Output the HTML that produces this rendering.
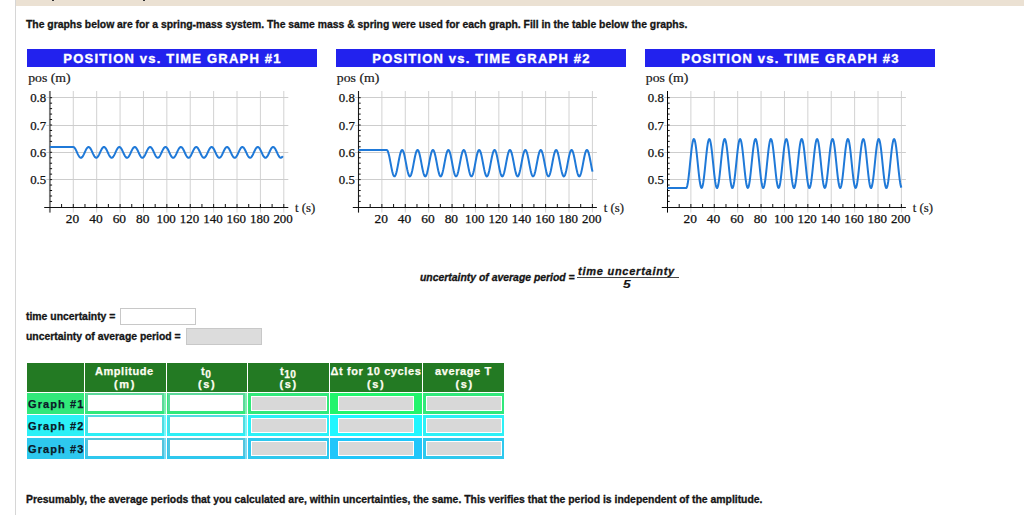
<!DOCTYPE html>
<html><head><meta charset="utf-8">
<style>
*{margin:0;padding:0;box-sizing:border-box}
html,body{width:1024px;height:515px;overflow:hidden;background:#fff;background-clip:padding-box}
body{position:relative;font-family:"Liberation Sans",sans-serif;color:#151515}
.abs{position:absolute;white-space:nowrap}
.topbar{position:absolute;left:16px;top:0;width:1008px;height:6px;background:#ebe1d3}
.lborder{position:absolute;left:15px;top:0;width:1px;height:515px;background:#d6d6d6}
.t10{font-weight:bold;font-size:10.42px;line-height:12px;-webkit-text-stroke:.3px #151515}
.bar{position:absolute;top:49px;height:18px;width:290px;background:#2222ee;color:#fff;font-weight:bold;font-size:13px;letter-spacing:1.2px;line-height:20px;text-align:center;-webkit-text-stroke:.35px #fff;text-indent:1px}
.g{position:absolute;left:0;top:0}
.inp{position:absolute;border:1px solid #c8c8c8;background:#fff;background-clip:padding-box}
.inp.gr{background:#dcdcdc}
table{position:absolute;left:26px;top:362px;border-collapse:separate;border-spacing:1px;font-weight:bold;font-size:11px;letter-spacing:0.7px}
td,th{padding:0;position:relative}
th{background:#237a23;color:#fbfbe6;height:29px;line-height:12px;text-align:center;vertical-align:middle;font-weight:bold;-webkit-text-stroke:.25px #fbfbe6;padding-top:1px}
td{height:21px}
tr.r1 td{background:#2fe87a}
tr.r2 td{background:#22eefa}
tr.r3 td{background:#2bcbf0}
.rl{color:#0b1a28;font-weight:bold;font-size:11px;line-height:13px;letter-spacing:1.1px;-webkit-text-stroke:.25px #0b1a28}
.th{color:#fdfdf0;font-weight:bold;font-size:11px;line-height:13px;-webkit-text-stroke:.25px #fdfdf0}
.sb{font-size:10.2px;position:relative;top:2.5px;letter-spacing:0.4px;margin-left:0.5px}
.ti{position:absolute;left:1px;top:0px;width:79px;height:19px;border:2px solid rgba(255,255,255,.45);background:#fff;background-clip:padding-box}
.tg{position:absolute;left:3px;top:3px;width:76px;height:15px;border:1px solid #fff;background:#d8d8d8}
sub{font-size:9px;vertical-align:-2px;letter-spacing:0}
</style></head><body>
<div class="topbar"></div>
<div class="lborder"></div>
<div class="abs" style="left:52px;top:0;width:2px;height:1px;background:#333"></div>
<div class="abs" style="left:143px;top:0;width:2px;height:1px;background:#333"></div>
<div class="abs t10" style="left:26px;top:19px;font-size:10.39px">The graphs below are for a spring-mass system. The same mass &amp; spring were used for each graph. Fill in the table below the graphs.</div>
<div class="bar" style="left:27px">POSITION vs. TIME GRAPH #1</div>
<div class="bar" style="left:336px">POSITION vs. TIME GRAPH #2</div>
<div class="bar" style="left:645px">POSITION vs. TIME GRAPH #3</div>
<svg class="g" width="1024" height="240" viewBox="0 0 1024 240">
<style>.gl{font:12.3px "Liberation Serif",serif;fill:#111;stroke:#111;stroke-width:.25px} .gl2{font:12px "Liberation Serif",serif;fill:#1a1a1a;stroke:#1a1a1a;stroke-width:.2px}</style>
<line x1="73.29" y1="91" x2="73.29" y2="212.5" stroke="#d2d2d2" stroke-width="1"/>
<line x1="96.68" y1="91" x2="96.68" y2="212.5" stroke="#d2d2d2" stroke-width="1"/>
<line x1="120.07" y1="91" x2="120.07" y2="212.5" stroke="#d2d2d2" stroke-width="1"/>
<line x1="143.46" y1="91" x2="143.46" y2="212.5" stroke="#d2d2d2" stroke-width="1"/>
<line x1="166.85" y1="91" x2="166.85" y2="212.5" stroke="#d2d2d2" stroke-width="1"/>
<line x1="190.24" y1="91" x2="190.24" y2="212.5" stroke="#d2d2d2" stroke-width="1"/>
<line x1="213.63" y1="91" x2="213.63" y2="212.5" stroke="#d2d2d2" stroke-width="1"/>
<line x1="237.02" y1="91" x2="237.02" y2="212.5" stroke="#d2d2d2" stroke-width="1"/>
<line x1="260.41" y1="91" x2="260.41" y2="212.5" stroke="#d2d2d2" stroke-width="1"/>
<line x1="283.80" y1="91" x2="283.80" y2="212.5" stroke="#d2d2d2" stroke-width="1"/>
<line x1="46.40" y1="97.5" x2="288.30" y2="97.5" stroke="#cdcdcd" stroke-width="1"/>
<line x1="46.40" y1="125.5" x2="288.30" y2="125.5" stroke="#cdcdcd" stroke-width="1"/>
<line x1="46.40" y1="152.5" x2="288.30" y2="152.5" stroke="#cdcdcd" stroke-width="1"/>
<line x1="46.40" y1="179.5" x2="288.30" y2="179.5" stroke="#cdcdcd" stroke-width="1"/>
<rect x="48.95" y="91" width="1.9" height="121.6" fill="#7c7c7c"/>
<line x1="44.20" y1="207.5" x2="288.30" y2="207.5" stroke="#111" stroke-width="1.1"/>
<line x1="61.59" y1="204" x2="61.59" y2="207.5" stroke="#111" stroke-width="1"/>
<line x1="73.29" y1="204" x2="73.29" y2="207.5" stroke="#111" stroke-width="1"/>
<line x1="84.98" y1="204" x2="84.98" y2="207.5" stroke="#111" stroke-width="1"/>
<line x1="96.68" y1="204" x2="96.68" y2="207.5" stroke="#111" stroke-width="1"/>
<line x1="108.38" y1="204" x2="108.38" y2="207.5" stroke="#111" stroke-width="1"/>
<line x1="120.07" y1="204" x2="120.07" y2="207.5" stroke="#111" stroke-width="1"/>
<line x1="131.76" y1="204" x2="131.76" y2="207.5" stroke="#111" stroke-width="1"/>
<line x1="143.46" y1="204" x2="143.46" y2="207.5" stroke="#111" stroke-width="1"/>
<line x1="155.16" y1="204" x2="155.16" y2="207.5" stroke="#111" stroke-width="1"/>
<line x1="166.85" y1="204" x2="166.85" y2="207.5" stroke="#111" stroke-width="1"/>
<line x1="178.55" y1="204" x2="178.55" y2="207.5" stroke="#111" stroke-width="1"/>
<line x1="190.24" y1="204" x2="190.24" y2="207.5" stroke="#111" stroke-width="1"/>
<line x1="201.94" y1="204" x2="201.94" y2="207.5" stroke="#111" stroke-width="1"/>
<line x1="213.63" y1="204" x2="213.63" y2="207.5" stroke="#111" stroke-width="1"/>
<line x1="225.33" y1="204" x2="225.33" y2="207.5" stroke="#111" stroke-width="1"/>
<line x1="237.02" y1="204" x2="237.02" y2="207.5" stroke="#111" stroke-width="1"/>
<line x1="248.72" y1="204" x2="248.72" y2="207.5" stroke="#111" stroke-width="1"/>
<line x1="260.41" y1="204" x2="260.41" y2="207.5" stroke="#111" stroke-width="1"/>
<line x1="272.10" y1="204" x2="272.10" y2="207.5" stroke="#111" stroke-width="1"/>
<line x1="283.80" y1="204" x2="283.80" y2="207.5" stroke="#111" stroke-width="1"/>
<line x1="49.90" y1="97.70" x2="52.10" y2="97.70" stroke="#111" stroke-width="1"/>
<line x1="49.90" y1="103.16" x2="52.10" y2="103.16" stroke="#111" stroke-width="1"/>
<line x1="49.90" y1="108.62" x2="52.10" y2="108.62" stroke="#111" stroke-width="1"/>
<line x1="49.90" y1="114.08" x2="52.10" y2="114.08" stroke="#111" stroke-width="1"/>
<line x1="49.90" y1="119.54" x2="52.10" y2="119.54" stroke="#111" stroke-width="1"/>
<line x1="49.90" y1="125.00" x2="52.10" y2="125.00" stroke="#111" stroke-width="1"/>
<line x1="49.90" y1="130.46" x2="52.10" y2="130.46" stroke="#111" stroke-width="1"/>
<line x1="49.90" y1="135.92" x2="52.10" y2="135.92" stroke="#111" stroke-width="1"/>
<line x1="49.90" y1="141.38" x2="52.10" y2="141.38" stroke="#111" stroke-width="1"/>
<line x1="49.90" y1="146.84" x2="52.10" y2="146.84" stroke="#111" stroke-width="1"/>
<line x1="49.90" y1="152.30" x2="52.10" y2="152.30" stroke="#111" stroke-width="1"/>
<line x1="49.90" y1="157.76" x2="52.10" y2="157.76" stroke="#111" stroke-width="1"/>
<line x1="49.90" y1="163.22" x2="52.10" y2="163.22" stroke="#111" stroke-width="1"/>
<line x1="49.90" y1="168.68" x2="52.10" y2="168.68" stroke="#111" stroke-width="1"/>
<line x1="49.90" y1="174.14" x2="52.10" y2="174.14" stroke="#111" stroke-width="1"/>
<line x1="49.90" y1="179.60" x2="52.10" y2="179.60" stroke="#111" stroke-width="1"/>
<line x1="49.90" y1="185.06" x2="52.10" y2="185.06" stroke="#111" stroke-width="1"/>
<line x1="49.90" y1="190.52" x2="52.10" y2="190.52" stroke="#111" stroke-width="1"/>
<line x1="49.90" y1="195.98" x2="52.10" y2="195.98" stroke="#111" stroke-width="1"/>
<line x1="49.90" y1="201.44" x2="52.10" y2="201.44" stroke="#111" stroke-width="1"/>
<text x="46.20" y="102.10" text-anchor="end" class="gl" textLength="16" lengthAdjust="spacingAndGlyphs">0.8</text>
<text x="46.20" y="130.10" text-anchor="end" class="gl" textLength="16" lengthAdjust="spacingAndGlyphs">0.7</text>
<text x="46.20" y="157.10" text-anchor="end" class="gl" textLength="16" lengthAdjust="spacingAndGlyphs">0.6</text>
<text x="46.20" y="184.10" text-anchor="end" class="gl" textLength="16" lengthAdjust="spacingAndGlyphs">0.5</text>
<text x="72.59" y="223.1" text-anchor="middle" class="gl" textLength="13.4" lengthAdjust="spacingAndGlyphs">20</text>
<text x="95.98" y="223.1" text-anchor="middle" class="gl" textLength="13.4" lengthAdjust="spacingAndGlyphs">40</text>
<text x="119.37" y="223.1" text-anchor="middle" class="gl" textLength="13.4" lengthAdjust="spacingAndGlyphs">60</text>
<text x="142.76" y="223.1" text-anchor="middle" class="gl" textLength="13.4" lengthAdjust="spacingAndGlyphs">80</text>
<text x="166.15" y="223.1" text-anchor="middle" class="gl" textLength="19.4" lengthAdjust="spacingAndGlyphs">100</text>
<text x="189.54" y="223.1" text-anchor="middle" class="gl" textLength="19.4" lengthAdjust="spacingAndGlyphs">120</text>
<text x="212.93" y="223.1" text-anchor="middle" class="gl" textLength="19.4" lengthAdjust="spacingAndGlyphs">140</text>
<text x="236.32" y="223.1" text-anchor="middle" class="gl" textLength="19.4" lengthAdjust="spacingAndGlyphs">160</text>
<text x="259.71" y="223.1" text-anchor="middle" class="gl" textLength="19.4" lengthAdjust="spacingAndGlyphs">180</text>
<text x="283.10" y="223.1" text-anchor="middle" class="gl" textLength="19.4" lengthAdjust="spacingAndGlyphs">200</text>
<text x="295.10" y="211.9" class="gl2" textLength="20.2" lengthAdjust="spacingAndGlyphs">t (s)</text>
<text x="28.20" y="81.6" class="gl2" textLength="42.5" lengthAdjust="spacingAndGlyphs">pos (m)</text>
<path d="M49.90,147.00 L73.20,147.00 L73.70,147.11 L74.20,147.44 L74.70,147.98 L75.20,148.70 L75.70,149.58 L76.20,150.57 L76.70,151.64 L77.20,152.74 L77.70,153.83 L78.20,154.85 L78.70,155.78 L79.20,156.56 L79.70,157.17 L80.20,157.59 L80.70,157.78 L81.20,157.76 L81.70,157.51 L82.20,157.04 L82.70,156.39 L83.20,155.57 L83.70,154.62 L84.20,153.57 L84.70,152.48 L85.20,151.38 L85.70,150.33 L86.20,149.36 L86.70,148.52 L87.20,147.84 L87.70,147.35 L88.20,147.06 L88.70,147.01 L89.20,147.17 L89.70,147.56 L90.20,148.14 L90.70,148.90 L91.20,149.81 L91.70,150.82 L92.20,151.90 L92.70,153.01 L93.20,154.08 L93.70,155.09 L94.20,155.98 L94.70,156.73 L95.20,157.29 L95.70,157.65 L96.20,157.80 L96.70,157.72 L97.20,157.41 L97.70,156.90 L98.20,156.21 L98.70,155.35 L99.20,154.37 L99.70,153.31 L100.20,152.21 L100.70,151.12 L101.20,150.08 L101.70,149.14 L102.20,148.34 L102.70,147.70 L103.20,147.26 L103.70,147.03 L104.20,147.03 L104.70,147.24 L105.20,147.68 L105.70,148.31 L106.20,149.11 L106.70,150.04 L107.20,151.08 L107.70,152.17 L108.20,153.27 L108.70,154.33 L109.20,155.31 L109.70,156.18 L110.20,156.88 L110.70,157.40 L111.20,157.71 L111.70,157.80 L112.20,157.66 L112.70,157.31 L113.20,156.75 L113.70,156.01 L114.20,155.13 L114.70,154.12 L115.20,153.05 L115.70,151.95 L116.20,150.87 L116.70,149.85 L117.20,148.94 L117.70,148.17 L118.20,147.58 L118.70,147.18 L119.20,147.01 L119.70,147.06 L120.20,147.33 L120.70,147.81 L121.20,148.49 L121.70,149.32 L122.20,150.29 L122.70,151.34 L123.20,152.43 L123.70,153.53 L124.20,154.58 L124.70,155.53 L125.20,156.36 L125.70,157.02 L126.20,157.49 L126.70,157.75 L127.20,157.79 L127.70,157.60 L128.20,157.19 L128.70,156.59 L129.20,155.81 L129.70,154.89 L130.20,153.87 L130.70,152.79 L131.20,151.69 L131.70,150.61 L132.20,149.62 L132.70,148.74 L133.20,148.01 L133.70,147.46 L134.20,147.12 L134.70,147.00 L135.20,147.10 L135.70,147.43 L136.20,147.96 L136.70,148.67 L137.20,149.54 L137.70,150.53 L138.20,151.60 L138.70,152.70 L139.20,153.79 L139.70,154.82 L140.20,155.74 L140.70,156.54 L141.20,157.15 L141.70,157.57 L142.20,157.78 L142.70,157.76 L143.20,157.52 L143.70,157.07 L144.20,156.42 L144.70,155.60 L145.20,154.66 L145.70,153.61 L146.20,152.52 L146.70,151.42 L147.20,150.37 L147.70,149.39 L148.20,148.55 L148.70,147.86 L149.20,147.36 L149.70,147.07 L150.20,147.00 L150.70,147.16 L151.20,147.54 L151.70,148.11 L152.20,148.87 L152.70,149.77 L153.20,150.78 L153.70,151.86 L154.20,152.96 L154.70,154.04 L155.20,155.05 L155.70,155.95 L156.20,156.70 L156.70,157.27 L157.20,157.64 L157.70,157.80 L158.20,157.72 L158.70,157.43 L159.20,156.93 L159.70,156.24 L160.20,155.39 L160.70,154.41 L161.20,153.35 L161.70,152.26 L162.20,151.16 L162.70,150.12 L163.20,149.18 L163.70,148.37 L164.20,147.72 L164.70,147.27 L165.20,147.04 L165.70,147.02 L166.20,147.23 L166.70,147.66 L167.20,148.28 L167.70,149.07 L168.20,150.00 L168.70,151.04 L169.20,152.12 L169.70,153.22 L170.20,154.29 L170.70,155.28 L171.20,156.14 L171.70,156.86 L172.20,157.38 L172.70,157.70 L173.20,157.80 L173.70,157.67 L174.20,157.33 L174.70,156.78 L175.20,156.05 L175.70,155.16 L176.20,154.16 L176.70,153.09 L177.20,151.99 L177.70,150.91 L178.20,149.89 L178.70,148.97 L179.20,148.19 L179.70,147.60 L180.20,147.20 L180.70,147.01 L181.20,147.05 L181.70,147.31 L182.20,147.79 L182.70,148.46 L183.20,149.29 L183.70,150.24 L184.20,151.29 L184.70,152.39 L185.20,153.48 L185.70,154.54 L186.20,155.50 L186.70,156.33 L187.20,157.00 L187.70,157.48 L188.20,157.74 L188.70,157.79 L189.20,157.61 L189.70,157.21 L190.20,156.62 L190.70,155.85 L191.20,154.93 L191.70,153.91 L192.20,152.83 L192.70,151.73 L193.20,150.66 L193.70,149.66 L194.20,148.77 L194.70,148.03 L195.20,147.48 L195.70,147.13 L196.20,147.00 L196.70,147.10 L197.20,147.41 L197.70,147.93 L198.20,148.64 L198.70,149.51 L199.20,150.49 L199.70,151.55 L200.20,152.65 L200.70,153.74 L201.20,154.78 L201.70,155.71 L202.20,156.51 L202.70,157.13 L203.20,157.56 L203.70,157.78 L204.20,157.77 L204.70,157.54 L205.20,157.09 L205.70,156.45 L206.20,155.64 L206.70,154.70 L207.20,153.66 L207.70,152.57 L208.20,151.47 L208.70,150.41 L209.20,149.43 L209.70,148.58 L210.20,147.88 L210.70,147.38 L211.20,147.08 L211.70,147.00 L212.20,147.15 L212.70,147.52 L213.20,148.09 L213.70,148.84 L214.20,149.73 L214.70,150.74 L215.20,151.82 L215.70,152.92 L216.20,154.00 L216.70,155.01 L217.20,155.91 L217.70,156.67 L218.20,157.25 L218.70,157.63 L219.20,157.79 L219.70,157.73 L220.20,157.45 L220.70,156.95 L221.20,156.27 L221.70,155.42 L222.20,154.45 L222.70,153.40 L223.20,152.30 L223.70,151.21 L224.20,150.16 L224.70,149.21 L225.20,148.40 L225.70,147.74 L226.20,147.29 L226.70,147.04 L227.20,147.02 L227.70,147.22 L228.20,147.64 L228.70,148.25 L229.20,149.04 L229.70,149.97 L230.20,150.99 L230.70,152.08 L231.20,153.18 L231.70,154.25 L232.20,155.24 L232.70,156.11 L233.20,156.83 L233.70,157.36 L234.20,157.69 L234.70,157.80 L235.20,157.68 L235.70,157.35 L236.20,156.80 L236.70,156.08 L237.20,155.20 L237.70,154.21 L238.20,153.14 L238.70,152.04 L239.20,150.95 L239.70,149.93 L240.20,149.00 L240.70,148.22 L241.20,147.62 L241.70,147.21 L242.20,147.01 L242.70,147.05 L243.20,147.30 L243.70,147.77 L244.20,148.43 L244.70,149.25 L245.20,150.20 L245.70,151.25 L246.20,152.34 L246.70,153.44 L247.20,154.49 L247.70,155.46 L248.20,156.30 L248.70,156.98 L249.20,157.46 L249.70,157.74 L250.20,157.79 L250.70,157.62 L251.20,157.23 L251.70,156.65 L252.20,155.88 L252.70,154.97 L253.20,153.95 L253.70,152.87 L254.20,151.77 L254.70,150.70 L255.20,149.69 L255.70,148.80 L256.20,148.06 L256.70,147.50 L257.20,147.14 L257.70,147.00 L258.20,147.09 L258.70,147.39 L259.20,147.91 L259.70,148.61 L260.20,149.47 L260.70,150.45 L261.20,151.51 L261.70,152.61 L262.20,153.70 L262.70,154.74 L263.20,155.67 L263.70,156.48 L264.20,157.11 L264.70,157.55 L265.20,157.77 L265.70,157.77 L266.20,157.55 L266.70,157.11 L267.20,156.48 L267.70,155.67 L268.20,154.74 L268.70,153.70 L269.20,152.61 L269.70,151.51 L270.20,150.45 L270.70,149.47 L271.20,148.61 L271.70,147.91 L272.20,147.39 L272.70,147.09 L273.20,147.00 L273.70,147.14 L274.20,147.50 L274.70,148.06 L275.20,148.80 L275.70,149.69 L276.20,150.70 L276.70,151.77 L277.20,152.87 L277.70,153.95 L278.20,154.97 L278.70,155.88 L279.20,156.65 L279.70,157.23 L280.20,157.62 L280.70,157.79 L281.20,157.74 L281.70,157.46 L282.20,156.98 L282.70,156.30 L282.80,156.14" fill="none" stroke="#1f79d8" stroke-width="2" stroke-linejoin="round"/>
<line x1="381.89" y1="91" x2="381.89" y2="212.5" stroke="#d2d2d2" stroke-width="1"/>
<line x1="405.28" y1="91" x2="405.28" y2="212.5" stroke="#d2d2d2" stroke-width="1"/>
<line x1="428.67" y1="91" x2="428.67" y2="212.5" stroke="#d2d2d2" stroke-width="1"/>
<line x1="452.06" y1="91" x2="452.06" y2="212.5" stroke="#d2d2d2" stroke-width="1"/>
<line x1="475.45" y1="91" x2="475.45" y2="212.5" stroke="#d2d2d2" stroke-width="1"/>
<line x1="498.84" y1="91" x2="498.84" y2="212.5" stroke="#d2d2d2" stroke-width="1"/>
<line x1="522.23" y1="91" x2="522.23" y2="212.5" stroke="#d2d2d2" stroke-width="1"/>
<line x1="545.62" y1="91" x2="545.62" y2="212.5" stroke="#d2d2d2" stroke-width="1"/>
<line x1="569.01" y1="91" x2="569.01" y2="212.5" stroke="#d2d2d2" stroke-width="1"/>
<line x1="592.40" y1="91" x2="592.40" y2="212.5" stroke="#d2d2d2" stroke-width="1"/>
<line x1="355.00" y1="97.5" x2="596.90" y2="97.5" stroke="#cdcdcd" stroke-width="1"/>
<line x1="355.00" y1="125.5" x2="596.90" y2="125.5" stroke="#cdcdcd" stroke-width="1"/>
<line x1="355.00" y1="152.5" x2="596.90" y2="152.5" stroke="#cdcdcd" stroke-width="1"/>
<line x1="355.00" y1="179.5" x2="596.90" y2="179.5" stroke="#cdcdcd" stroke-width="1"/>
<rect x="357.95" y="91" width="1.1" height="121.6" fill="#1a1a1a"/>
<line x1="352.80" y1="207.5" x2="596.90" y2="207.5" stroke="#111" stroke-width="1.1"/>
<line x1="370.19" y1="204" x2="370.19" y2="207.5" stroke="#111" stroke-width="1"/>
<line x1="381.89" y1="204" x2="381.89" y2="207.5" stroke="#111" stroke-width="1"/>
<line x1="393.58" y1="204" x2="393.58" y2="207.5" stroke="#111" stroke-width="1"/>
<line x1="405.28" y1="204" x2="405.28" y2="207.5" stroke="#111" stroke-width="1"/>
<line x1="416.98" y1="204" x2="416.98" y2="207.5" stroke="#111" stroke-width="1"/>
<line x1="428.67" y1="204" x2="428.67" y2="207.5" stroke="#111" stroke-width="1"/>
<line x1="440.37" y1="204" x2="440.37" y2="207.5" stroke="#111" stroke-width="1"/>
<line x1="452.06" y1="204" x2="452.06" y2="207.5" stroke="#111" stroke-width="1"/>
<line x1="463.75" y1="204" x2="463.75" y2="207.5" stroke="#111" stroke-width="1"/>
<line x1="475.45" y1="204" x2="475.45" y2="207.5" stroke="#111" stroke-width="1"/>
<line x1="487.14" y1="204" x2="487.14" y2="207.5" stroke="#111" stroke-width="1"/>
<line x1="498.84" y1="204" x2="498.84" y2="207.5" stroke="#111" stroke-width="1"/>
<line x1="510.53" y1="204" x2="510.53" y2="207.5" stroke="#111" stroke-width="1"/>
<line x1="522.23" y1="204" x2="522.23" y2="207.5" stroke="#111" stroke-width="1"/>
<line x1="533.92" y1="204" x2="533.92" y2="207.5" stroke="#111" stroke-width="1"/>
<line x1="545.62" y1="204" x2="545.62" y2="207.5" stroke="#111" stroke-width="1"/>
<line x1="557.32" y1="204" x2="557.32" y2="207.5" stroke="#111" stroke-width="1"/>
<line x1="569.01" y1="204" x2="569.01" y2="207.5" stroke="#111" stroke-width="1"/>
<line x1="580.70" y1="204" x2="580.70" y2="207.5" stroke="#111" stroke-width="1"/>
<line x1="592.40" y1="204" x2="592.40" y2="207.5" stroke="#111" stroke-width="1"/>
<line x1="358.50" y1="97.70" x2="360.70" y2="97.70" stroke="#111" stroke-width="1"/>
<line x1="358.50" y1="103.16" x2="360.70" y2="103.16" stroke="#111" stroke-width="1"/>
<line x1="358.50" y1="108.62" x2="360.70" y2="108.62" stroke="#111" stroke-width="1"/>
<line x1="358.50" y1="114.08" x2="360.70" y2="114.08" stroke="#111" stroke-width="1"/>
<line x1="358.50" y1="119.54" x2="360.70" y2="119.54" stroke="#111" stroke-width="1"/>
<line x1="358.50" y1="125.00" x2="360.70" y2="125.00" stroke="#111" stroke-width="1"/>
<line x1="358.50" y1="130.46" x2="360.70" y2="130.46" stroke="#111" stroke-width="1"/>
<line x1="358.50" y1="135.92" x2="360.70" y2="135.92" stroke="#111" stroke-width="1"/>
<line x1="358.50" y1="141.38" x2="360.70" y2="141.38" stroke="#111" stroke-width="1"/>
<line x1="358.50" y1="146.84" x2="360.70" y2="146.84" stroke="#111" stroke-width="1"/>
<line x1="358.50" y1="152.30" x2="360.70" y2="152.30" stroke="#111" stroke-width="1"/>
<line x1="358.50" y1="157.76" x2="360.70" y2="157.76" stroke="#111" stroke-width="1"/>
<line x1="358.50" y1="163.22" x2="360.70" y2="163.22" stroke="#111" stroke-width="1"/>
<line x1="358.50" y1="168.68" x2="360.70" y2="168.68" stroke="#111" stroke-width="1"/>
<line x1="358.50" y1="174.14" x2="360.70" y2="174.14" stroke="#111" stroke-width="1"/>
<line x1="358.50" y1="179.60" x2="360.70" y2="179.60" stroke="#111" stroke-width="1"/>
<line x1="358.50" y1="185.06" x2="360.70" y2="185.06" stroke="#111" stroke-width="1"/>
<line x1="358.50" y1="190.52" x2="360.70" y2="190.52" stroke="#111" stroke-width="1"/>
<line x1="358.50" y1="195.98" x2="360.70" y2="195.98" stroke="#111" stroke-width="1"/>
<line x1="358.50" y1="201.44" x2="360.70" y2="201.44" stroke="#111" stroke-width="1"/>
<text x="354.80" y="102.10" text-anchor="end" class="gl" textLength="16" lengthAdjust="spacingAndGlyphs">0.8</text>
<text x="354.80" y="130.10" text-anchor="end" class="gl" textLength="16" lengthAdjust="spacingAndGlyphs">0.7</text>
<text x="354.80" y="157.10" text-anchor="end" class="gl" textLength="16" lengthAdjust="spacingAndGlyphs">0.6</text>
<text x="354.80" y="184.10" text-anchor="end" class="gl" textLength="16" lengthAdjust="spacingAndGlyphs">0.5</text>
<text x="381.19" y="223.1" text-anchor="middle" class="gl" textLength="13.4" lengthAdjust="spacingAndGlyphs">20</text>
<text x="404.58" y="223.1" text-anchor="middle" class="gl" textLength="13.4" lengthAdjust="spacingAndGlyphs">40</text>
<text x="427.97" y="223.1" text-anchor="middle" class="gl" textLength="13.4" lengthAdjust="spacingAndGlyphs">60</text>
<text x="451.36" y="223.1" text-anchor="middle" class="gl" textLength="13.4" lengthAdjust="spacingAndGlyphs">80</text>
<text x="474.75" y="223.1" text-anchor="middle" class="gl" textLength="19.4" lengthAdjust="spacingAndGlyphs">100</text>
<text x="498.14" y="223.1" text-anchor="middle" class="gl" textLength="19.4" lengthAdjust="spacingAndGlyphs">120</text>
<text x="521.53" y="223.1" text-anchor="middle" class="gl" textLength="19.4" lengthAdjust="spacingAndGlyphs">140</text>
<text x="544.92" y="223.1" text-anchor="middle" class="gl" textLength="19.4" lengthAdjust="spacingAndGlyphs">160</text>
<text x="568.31" y="223.1" text-anchor="middle" class="gl" textLength="19.4" lengthAdjust="spacingAndGlyphs">180</text>
<text x="591.70" y="223.1" text-anchor="middle" class="gl" textLength="19.4" lengthAdjust="spacingAndGlyphs">200</text>
<text x="603.70" y="211.9" class="gl2" textLength="20.2" lengthAdjust="spacingAndGlyphs">t (s)</text>
<text x="336.80" y="81.6" class="gl2" textLength="42.5" lengthAdjust="spacingAndGlyphs">pos (m)</text>
<path d="M358.50,150.00 L386.75,150.00 L387.25,150.27 L387.75,151.08 L388.25,152.40 L388.75,154.16 L389.25,156.29 L389.75,158.71 L390.25,161.32 L390.75,164.01 L391.25,166.66 L391.75,169.17 L392.25,171.43 L392.75,173.35 L393.25,174.85 L393.75,175.87 L394.25,176.36 L394.75,176.30 L395.25,175.70 L395.75,174.59 L396.25,173.00 L396.75,171.00 L397.25,168.68 L397.75,166.14 L398.25,163.47 L398.75,160.79 L399.25,158.21 L399.75,155.84 L400.25,153.77 L400.75,152.10 L401.25,150.88 L401.75,150.18 L402.25,150.01 L402.75,150.39 L403.25,151.31 L403.75,152.71 L404.25,154.56 L404.75,156.76 L405.25,159.22 L405.75,161.86 L406.25,164.54 L406.75,167.18 L407.25,169.64 L407.75,171.84 L408.25,173.69 L408.75,175.09 L409.25,176.01 L409.75,176.39 L410.25,176.22 L410.75,175.52 L411.25,174.30 L411.75,172.63 L412.25,170.56 L412.75,168.19 L413.25,165.61 L413.75,162.93 L414.25,160.26 L414.75,157.72 L415.25,155.40 L415.75,153.40 L416.25,151.81 L416.75,150.70 L417.25,150.10 L417.75,150.04 L418.25,150.53 L418.75,151.55 L419.25,153.05 L419.75,154.97 L420.25,157.23 L420.75,159.74 L421.25,162.39 L421.75,165.08 L422.25,167.69 L422.75,170.11 L423.25,172.24 L423.75,174.00 L424.25,175.32 L424.75,176.13 L425.25,176.40 L425.75,176.13 L426.25,175.32 L426.75,174.00 L427.25,172.24 L427.75,170.11 L428.25,167.69 L428.75,165.08 L429.25,162.39 L429.75,159.74 L430.25,157.23 L430.75,154.97 L431.25,153.05 L431.75,151.55 L432.25,150.53 L432.75,150.04 L433.25,150.10 L433.75,150.70 L434.25,151.81 L434.75,153.40 L435.25,155.40 L435.75,157.72 L436.25,160.26 L436.75,162.93 L437.25,165.61 L437.75,168.19 L438.25,170.56 L438.75,172.63 L439.25,174.30 L439.75,175.52 L440.25,176.22 L440.75,176.39 L441.25,176.01 L441.75,175.09 L442.25,173.69 L442.75,171.84 L443.25,169.64 L443.75,167.18 L444.25,164.54 L444.75,161.86 L445.25,159.22 L445.75,156.76 L446.25,154.56 L446.75,152.71 L447.25,151.31 L447.75,150.39 L448.25,150.01 L448.75,150.18 L449.25,150.88 L449.75,152.10 L450.25,153.77 L450.75,155.84 L451.25,158.21 L451.75,160.79 L452.25,163.47 L452.75,166.14 L453.25,168.68 L453.75,171.00 L454.25,173.00 L454.75,174.59 L455.25,175.70 L455.75,176.30 L456.25,176.36 L456.75,175.87 L457.25,174.85 L457.75,173.35 L458.25,171.43 L458.75,169.17 L459.25,166.66 L459.75,164.01 L460.25,161.32 L460.75,158.71 L461.25,156.29 L461.75,154.16 L462.25,152.40 L462.75,151.08 L463.25,150.27 L463.75,150.00 L464.25,150.27 L464.75,151.08 L465.25,152.40 L465.75,154.16 L466.25,156.29 L466.75,158.71 L467.25,161.32 L467.75,164.01 L468.25,166.66 L468.75,169.17 L469.25,171.43 L469.75,173.35 L470.25,174.85 L470.75,175.87 L471.25,176.36 L471.75,176.30 L472.25,175.70 L472.75,174.59 L473.25,173.00 L473.75,171.00 L474.25,168.68 L474.75,166.14 L475.25,163.47 L475.75,160.79 L476.25,158.21 L476.75,155.84 L477.25,153.77 L477.75,152.10 L478.25,150.88 L478.75,150.18 L479.25,150.01 L479.75,150.39 L480.25,151.31 L480.75,152.71 L481.25,154.56 L481.75,156.76 L482.25,159.22 L482.75,161.86 L483.25,164.54 L483.75,167.18 L484.25,169.64 L484.75,171.84 L485.25,173.69 L485.75,175.09 L486.25,176.01 L486.75,176.39 L487.25,176.22 L487.75,175.52 L488.25,174.30 L488.75,172.63 L489.25,170.56 L489.75,168.19 L490.25,165.61 L490.75,162.93 L491.25,160.26 L491.75,157.72 L492.25,155.40 L492.75,153.40 L493.25,151.81 L493.75,150.70 L494.25,150.10 L494.75,150.04 L495.25,150.53 L495.75,151.55 L496.25,153.05 L496.75,154.97 L497.25,157.23 L497.75,159.74 L498.25,162.39 L498.75,165.08 L499.25,167.69 L499.75,170.11 L500.25,172.24 L500.75,174.00 L501.25,175.32 L501.75,176.13 L502.25,176.40 L502.75,176.13 L503.25,175.32 L503.75,174.00 L504.25,172.24 L504.75,170.11 L505.25,167.69 L505.75,165.08 L506.25,162.39 L506.75,159.74 L507.25,157.23 L507.75,154.97 L508.25,153.05 L508.75,151.55 L509.25,150.53 L509.75,150.04 L510.25,150.10 L510.75,150.70 L511.25,151.81 L511.75,153.40 L512.25,155.40 L512.75,157.72 L513.25,160.26 L513.75,162.93 L514.25,165.61 L514.75,168.19 L515.25,170.56 L515.75,172.63 L516.25,174.30 L516.75,175.52 L517.25,176.22 L517.75,176.39 L518.25,176.01 L518.75,175.09 L519.25,173.69 L519.75,171.84 L520.25,169.64 L520.75,167.18 L521.25,164.54 L521.75,161.86 L522.25,159.22 L522.75,156.76 L523.25,154.56 L523.75,152.71 L524.25,151.31 L524.75,150.39 L525.25,150.01 L525.75,150.18 L526.25,150.88 L526.75,152.10 L527.25,153.77 L527.75,155.84 L528.25,158.21 L528.75,160.79 L529.25,163.47 L529.75,166.14 L530.25,168.68 L530.75,171.00 L531.25,173.00 L531.75,174.59 L532.25,175.70 L532.75,176.30 L533.25,176.36 L533.75,175.87 L534.25,174.85 L534.75,173.35 L535.25,171.43 L535.75,169.17 L536.25,166.66 L536.75,164.01 L537.25,161.32 L537.75,158.71 L538.25,156.29 L538.75,154.16 L539.25,152.40 L539.75,151.08 L540.25,150.27 L540.75,150.00 L541.25,150.27 L541.75,151.08 L542.25,152.40 L542.75,154.16 L543.25,156.29 L543.75,158.71 L544.25,161.32 L544.75,164.01 L545.25,166.66 L545.75,169.17 L546.25,171.43 L546.75,173.35 L547.25,174.85 L547.75,175.87 L548.25,176.36 L548.75,176.30 L549.25,175.70 L549.75,174.59 L550.25,173.00 L550.75,171.00 L551.25,168.68 L551.75,166.14 L552.25,163.47 L552.75,160.79 L553.25,158.21 L553.75,155.84 L554.25,153.77 L554.75,152.10 L555.25,150.88 L555.75,150.18 L556.25,150.01 L556.75,150.39 L557.25,151.31 L557.75,152.71 L558.25,154.56 L558.75,156.76 L559.25,159.22 L559.75,161.86 L560.25,164.54 L560.75,167.18 L561.25,169.64 L561.75,171.84 L562.25,173.69 L562.75,175.09 L563.25,176.01 L563.75,176.39 L564.25,176.22 L564.75,175.52 L565.25,174.30 L565.75,172.63 L566.25,170.56 L566.75,168.19 L567.25,165.61 L567.75,162.93 L568.25,160.26 L568.75,157.72 L569.25,155.40 L569.75,153.40 L570.25,151.81 L570.75,150.70 L571.25,150.10 L571.75,150.04 L572.25,150.53 L572.75,151.55 L573.25,153.05 L573.75,154.97 L574.25,157.23 L574.75,159.74 L575.25,162.39 L575.75,165.08 L576.25,167.69 L576.75,170.11 L577.25,172.24 L577.75,174.00 L578.25,175.32 L578.75,176.13 L579.25,176.40 L579.75,176.13 L580.25,175.32 L580.75,174.00 L581.25,172.24 L581.75,170.11 L582.25,167.69 L582.75,165.08 L583.25,162.39 L583.75,159.74 L584.25,157.23 L584.75,154.97 L585.25,153.05 L585.75,151.55 L586.25,150.53 L586.75,150.04 L587.25,150.10 L587.75,150.70 L588.25,151.81 L588.75,153.40 L589.25,155.40 L589.75,157.72 L590.25,160.26 L590.75,162.93 L591.25,165.61 L591.75,168.19 L592.25,170.56 L592.50,171.64" fill="none" stroke="#1f79d8" stroke-width="2" stroke-linejoin="round"/>
<line x1="690.89" y1="91" x2="690.89" y2="212.5" stroke="#d2d2d2" stroke-width="1"/>
<line x1="714.28" y1="91" x2="714.28" y2="212.5" stroke="#d2d2d2" stroke-width="1"/>
<line x1="737.67" y1="91" x2="737.67" y2="212.5" stroke="#d2d2d2" stroke-width="1"/>
<line x1="761.06" y1="91" x2="761.06" y2="212.5" stroke="#d2d2d2" stroke-width="1"/>
<line x1="784.45" y1="91" x2="784.45" y2="212.5" stroke="#d2d2d2" stroke-width="1"/>
<line x1="807.84" y1="91" x2="807.84" y2="212.5" stroke="#d2d2d2" stroke-width="1"/>
<line x1="831.23" y1="91" x2="831.23" y2="212.5" stroke="#d2d2d2" stroke-width="1"/>
<line x1="854.62" y1="91" x2="854.62" y2="212.5" stroke="#d2d2d2" stroke-width="1"/>
<line x1="878.01" y1="91" x2="878.01" y2="212.5" stroke="#d2d2d2" stroke-width="1"/>
<line x1="901.40" y1="91" x2="901.40" y2="212.5" stroke="#d2d2d2" stroke-width="1"/>
<line x1="664.00" y1="97.5" x2="905.90" y2="97.5" stroke="#cdcdcd" stroke-width="1"/>
<line x1="664.00" y1="125.5" x2="905.90" y2="125.5" stroke="#cdcdcd" stroke-width="1"/>
<line x1="664.00" y1="152.5" x2="905.90" y2="152.5" stroke="#cdcdcd" stroke-width="1"/>
<line x1="664.00" y1="179.5" x2="905.90" y2="179.5" stroke="#cdcdcd" stroke-width="1"/>
<rect x="667.00" y="91" width="1.0" height="121.6" fill="#000"/>
<line x1="661.80" y1="207.5" x2="905.90" y2="207.5" stroke="#111" stroke-width="1.1"/>
<line x1="679.20" y1="204" x2="679.20" y2="207.5" stroke="#111" stroke-width="1"/>
<line x1="690.89" y1="204" x2="690.89" y2="207.5" stroke="#111" stroke-width="1"/>
<line x1="702.59" y1="204" x2="702.59" y2="207.5" stroke="#111" stroke-width="1"/>
<line x1="714.28" y1="204" x2="714.28" y2="207.5" stroke="#111" stroke-width="1"/>
<line x1="725.98" y1="204" x2="725.98" y2="207.5" stroke="#111" stroke-width="1"/>
<line x1="737.67" y1="204" x2="737.67" y2="207.5" stroke="#111" stroke-width="1"/>
<line x1="749.37" y1="204" x2="749.37" y2="207.5" stroke="#111" stroke-width="1"/>
<line x1="761.06" y1="204" x2="761.06" y2="207.5" stroke="#111" stroke-width="1"/>
<line x1="772.75" y1="204" x2="772.75" y2="207.5" stroke="#111" stroke-width="1"/>
<line x1="784.45" y1="204" x2="784.45" y2="207.5" stroke="#111" stroke-width="1"/>
<line x1="796.14" y1="204" x2="796.14" y2="207.5" stroke="#111" stroke-width="1"/>
<line x1="807.84" y1="204" x2="807.84" y2="207.5" stroke="#111" stroke-width="1"/>
<line x1="819.53" y1="204" x2="819.53" y2="207.5" stroke="#111" stroke-width="1"/>
<line x1="831.23" y1="204" x2="831.23" y2="207.5" stroke="#111" stroke-width="1"/>
<line x1="842.92" y1="204" x2="842.92" y2="207.5" stroke="#111" stroke-width="1"/>
<line x1="854.62" y1="204" x2="854.62" y2="207.5" stroke="#111" stroke-width="1"/>
<line x1="866.32" y1="204" x2="866.32" y2="207.5" stroke="#111" stroke-width="1"/>
<line x1="878.01" y1="204" x2="878.01" y2="207.5" stroke="#111" stroke-width="1"/>
<line x1="889.70" y1="204" x2="889.70" y2="207.5" stroke="#111" stroke-width="1"/>
<line x1="901.40" y1="204" x2="901.40" y2="207.5" stroke="#111" stroke-width="1"/>
<line x1="667.50" y1="97.70" x2="669.70" y2="97.70" stroke="#111" stroke-width="1"/>
<line x1="667.50" y1="103.16" x2="669.70" y2="103.16" stroke="#111" stroke-width="1"/>
<line x1="667.50" y1="108.62" x2="669.70" y2="108.62" stroke="#111" stroke-width="1"/>
<line x1="667.50" y1="114.08" x2="669.70" y2="114.08" stroke="#111" stroke-width="1"/>
<line x1="667.50" y1="119.54" x2="669.70" y2="119.54" stroke="#111" stroke-width="1"/>
<line x1="667.50" y1="125.00" x2="669.70" y2="125.00" stroke="#111" stroke-width="1"/>
<line x1="667.50" y1="130.46" x2="669.70" y2="130.46" stroke="#111" stroke-width="1"/>
<line x1="667.50" y1="135.92" x2="669.70" y2="135.92" stroke="#111" stroke-width="1"/>
<line x1="667.50" y1="141.38" x2="669.70" y2="141.38" stroke="#111" stroke-width="1"/>
<line x1="667.50" y1="146.84" x2="669.70" y2="146.84" stroke="#111" stroke-width="1"/>
<line x1="667.50" y1="152.30" x2="669.70" y2="152.30" stroke="#111" stroke-width="1"/>
<line x1="667.50" y1="157.76" x2="669.70" y2="157.76" stroke="#111" stroke-width="1"/>
<line x1="667.50" y1="163.22" x2="669.70" y2="163.22" stroke="#111" stroke-width="1"/>
<line x1="667.50" y1="168.68" x2="669.70" y2="168.68" stroke="#111" stroke-width="1"/>
<line x1="667.50" y1="174.14" x2="669.70" y2="174.14" stroke="#111" stroke-width="1"/>
<line x1="667.50" y1="179.60" x2="669.70" y2="179.60" stroke="#111" stroke-width="1"/>
<line x1="667.50" y1="185.06" x2="669.70" y2="185.06" stroke="#111" stroke-width="1"/>
<line x1="667.50" y1="190.52" x2="669.70" y2="190.52" stroke="#111" stroke-width="1"/>
<line x1="667.50" y1="195.98" x2="669.70" y2="195.98" stroke="#111" stroke-width="1"/>
<line x1="667.50" y1="201.44" x2="669.70" y2="201.44" stroke="#111" stroke-width="1"/>
<text x="663.80" y="102.10" text-anchor="end" class="gl" textLength="16" lengthAdjust="spacingAndGlyphs">0.8</text>
<text x="663.80" y="130.10" text-anchor="end" class="gl" textLength="16" lengthAdjust="spacingAndGlyphs">0.7</text>
<text x="663.80" y="157.10" text-anchor="end" class="gl" textLength="16" lengthAdjust="spacingAndGlyphs">0.6</text>
<text x="663.80" y="184.10" text-anchor="end" class="gl" textLength="16" lengthAdjust="spacingAndGlyphs">0.5</text>
<text x="690.19" y="223.1" text-anchor="middle" class="gl" textLength="13.4" lengthAdjust="spacingAndGlyphs">20</text>
<text x="713.58" y="223.1" text-anchor="middle" class="gl" textLength="13.4" lengthAdjust="spacingAndGlyphs">40</text>
<text x="736.97" y="223.1" text-anchor="middle" class="gl" textLength="13.4" lengthAdjust="spacingAndGlyphs">60</text>
<text x="760.36" y="223.1" text-anchor="middle" class="gl" textLength="13.4" lengthAdjust="spacingAndGlyphs">80</text>
<text x="783.75" y="223.1" text-anchor="middle" class="gl" textLength="19.4" lengthAdjust="spacingAndGlyphs">100</text>
<text x="807.14" y="223.1" text-anchor="middle" class="gl" textLength="19.4" lengthAdjust="spacingAndGlyphs">120</text>
<text x="830.53" y="223.1" text-anchor="middle" class="gl" textLength="19.4" lengthAdjust="spacingAndGlyphs">140</text>
<text x="853.92" y="223.1" text-anchor="middle" class="gl" textLength="19.4" lengthAdjust="spacingAndGlyphs">160</text>
<text x="877.31" y="223.1" text-anchor="middle" class="gl" textLength="19.4" lengthAdjust="spacingAndGlyphs">180</text>
<text x="900.70" y="223.1" text-anchor="middle" class="gl" textLength="19.4" lengthAdjust="spacingAndGlyphs">200</text>
<text x="912.70" y="211.9" class="gl2" textLength="20.2" lengthAdjust="spacingAndGlyphs">t (s)</text>
<text x="645.80" y="81.6" class="gl2" textLength="42.5" lengthAdjust="spacingAndGlyphs">pos (m)</text>
<path d="M667.50,188.00 L686.20,188.00 L686.70,187.49 L687.20,185.99 L687.70,183.55 L688.20,180.29 L688.70,176.32 L689.20,171.83 L689.70,166.99 L690.20,162.00 L690.70,157.08 L691.20,152.42 L691.70,148.22 L692.20,144.66 L692.70,141.88 L693.20,139.99 L693.70,139.08 L694.20,139.18 L694.70,140.29 L695.20,142.37 L695.70,145.32 L696.20,149.02 L696.70,153.32 L697.20,158.05 L697.70,163.00 L698.20,167.97 L698.70,172.76 L699.20,177.16 L699.70,181.00 L700.20,184.11 L700.70,186.37 L701.20,187.67 L701.70,187.98 L702.20,187.27 L702.70,185.57 L703.20,182.96 L703.70,179.54 L704.20,175.46 L704.70,170.88 L705.20,165.99 L705.70,161.01 L706.20,156.12 L706.70,151.54 L707.20,147.46 L707.70,144.04 L708.20,141.43 L708.70,139.73 L709.20,139.02 L709.70,139.33 L710.20,140.63 L710.70,142.89 L711.20,146.00 L711.70,149.84 L712.20,154.24 L712.70,159.03 L713.20,164.00 L713.70,168.95 L714.20,173.68 L714.70,177.98 L715.20,181.68 L715.70,184.63 L716.20,186.71 L716.70,187.82 L717.20,187.92 L717.70,187.01 L718.20,185.12 L718.70,182.34 L719.20,178.78 L719.70,174.58 L720.20,169.92 L720.70,165.00 L721.20,160.01 L721.70,155.17 L722.20,150.68 L722.70,146.71 L723.20,143.45 L723.70,141.01 L724.20,139.51 L724.70,139.00 L725.20,139.51 L725.70,141.01 L726.20,143.45 L726.70,146.71 L727.20,150.68 L727.70,155.17 L728.20,160.01 L728.70,165.00 L729.20,169.92 L729.70,174.58 L730.20,178.78 L730.70,182.34 L731.20,185.12 L731.70,187.01 L732.20,187.92 L732.70,187.82 L733.20,186.71 L733.70,184.63 L734.20,181.68 L734.70,177.98 L735.20,173.68 L735.70,168.95 L736.20,164.00 L736.70,159.03 L737.20,154.24 L737.70,149.84 L738.20,146.00 L738.70,142.89 L739.20,140.63 L739.70,139.33 L740.20,139.02 L740.70,139.73 L741.20,141.43 L741.70,144.04 L742.20,147.46 L742.70,151.54 L743.20,156.12 L743.70,161.01 L744.20,165.99 L744.70,170.88 L745.20,175.46 L745.70,179.54 L746.20,182.96 L746.70,185.57 L747.20,187.27 L747.70,187.98 L748.20,187.67 L748.70,186.37 L749.20,184.11 L749.70,181.00 L750.20,177.16 L750.70,172.76 L751.20,167.97 L751.70,163.00 L752.20,158.05 L752.70,153.32 L753.20,149.02 L753.70,145.32 L754.20,142.37 L754.70,140.29 L755.20,139.18 L755.70,139.08 L756.20,139.99 L756.70,141.88 L757.20,144.66 L757.70,148.22 L758.20,152.42 L758.70,157.08 L759.20,162.00 L759.70,166.99 L760.20,171.83 L760.70,176.32 L761.20,180.29 L761.70,183.55 L762.20,185.99 L762.70,187.49 L763.20,188.00 L763.70,187.49 L764.20,185.99 L764.70,183.55 L765.20,180.29 L765.70,176.32 L766.20,171.83 L766.70,166.99 L767.20,162.00 L767.70,157.08 L768.20,152.42 L768.70,148.22 L769.20,144.66 L769.70,141.88 L770.20,139.99 L770.70,139.08 L771.20,139.18 L771.70,140.29 L772.20,142.37 L772.70,145.32 L773.20,149.02 L773.70,153.32 L774.20,158.05 L774.70,163.00 L775.20,167.97 L775.70,172.76 L776.20,177.16 L776.70,181.00 L777.20,184.11 L777.70,186.37 L778.20,187.67 L778.70,187.98 L779.20,187.27 L779.70,185.57 L780.20,182.96 L780.70,179.54 L781.20,175.46 L781.70,170.88 L782.20,165.99 L782.70,161.01 L783.20,156.12 L783.70,151.54 L784.20,147.46 L784.70,144.04 L785.20,141.43 L785.70,139.73 L786.20,139.02 L786.70,139.33 L787.20,140.63 L787.70,142.89 L788.20,146.00 L788.70,149.84 L789.20,154.24 L789.70,159.03 L790.20,164.00 L790.70,168.95 L791.20,173.68 L791.70,177.98 L792.20,181.68 L792.70,184.63 L793.20,186.71 L793.70,187.82 L794.20,187.92 L794.70,187.01 L795.20,185.12 L795.70,182.34 L796.20,178.78 L796.70,174.58 L797.20,169.92 L797.70,165.00 L798.20,160.01 L798.70,155.17 L799.20,150.68 L799.70,146.71 L800.20,143.45 L800.70,141.01 L801.20,139.51 L801.70,139.00 L802.20,139.51 L802.70,141.01 L803.20,143.45 L803.70,146.71 L804.20,150.68 L804.70,155.17 L805.20,160.01 L805.70,165.00 L806.20,169.92 L806.70,174.58 L807.20,178.78 L807.70,182.34 L808.20,185.12 L808.70,187.01 L809.20,187.92 L809.70,187.82 L810.20,186.71 L810.70,184.63 L811.20,181.68 L811.70,177.98 L812.20,173.68 L812.70,168.95 L813.20,164.00 L813.70,159.03 L814.20,154.24 L814.70,149.84 L815.20,146.00 L815.70,142.89 L816.20,140.63 L816.70,139.33 L817.20,139.02 L817.70,139.73 L818.20,141.43 L818.70,144.04 L819.20,147.46 L819.70,151.54 L820.20,156.12 L820.70,161.01 L821.20,165.99 L821.70,170.88 L822.20,175.46 L822.70,179.54 L823.20,182.96 L823.70,185.57 L824.20,187.27 L824.70,187.98 L825.20,187.67 L825.70,186.37 L826.20,184.11 L826.70,181.00 L827.20,177.16 L827.70,172.76 L828.20,167.97 L828.70,163.00 L829.20,158.05 L829.70,153.32 L830.20,149.02 L830.70,145.32 L831.20,142.37 L831.70,140.29 L832.20,139.18 L832.70,139.08 L833.20,139.99 L833.70,141.88 L834.20,144.66 L834.70,148.22 L835.20,152.42 L835.70,157.08 L836.20,162.00 L836.70,166.99 L837.20,171.83 L837.70,176.32 L838.20,180.29 L838.70,183.55 L839.20,185.99 L839.70,187.49 L840.20,188.00 L840.70,187.49 L841.20,185.99 L841.70,183.55 L842.20,180.29 L842.70,176.32 L843.20,171.83 L843.70,166.99 L844.20,162.00 L844.70,157.08 L845.20,152.42 L845.70,148.22 L846.20,144.66 L846.70,141.88 L847.20,139.99 L847.70,139.08 L848.20,139.18 L848.70,140.29 L849.20,142.37 L849.70,145.32 L850.20,149.02 L850.70,153.32 L851.20,158.05 L851.70,163.00 L852.20,167.97 L852.70,172.76 L853.20,177.16 L853.70,181.00 L854.20,184.11 L854.70,186.37 L855.20,187.67 L855.70,187.98 L856.20,187.27 L856.70,185.57 L857.20,182.96 L857.70,179.54 L858.20,175.46 L858.70,170.88 L859.20,165.99 L859.70,161.01 L860.20,156.12 L860.70,151.54 L861.20,147.46 L861.70,144.04 L862.20,141.43 L862.70,139.73 L863.20,139.02 L863.70,139.33 L864.20,140.63 L864.70,142.89 L865.20,146.00 L865.70,149.84 L866.20,154.24 L866.70,159.03 L867.20,164.00 L867.70,168.95 L868.20,173.68 L868.70,177.98 L869.20,181.68 L869.70,184.63 L870.20,186.71 L870.70,187.82 L871.20,187.92 L871.70,187.01 L872.20,185.12 L872.70,182.34 L873.20,178.78 L873.70,174.58 L874.20,169.92 L874.70,165.00 L875.20,160.01 L875.70,155.17 L876.20,150.68 L876.70,146.71 L877.20,143.45 L877.70,141.01 L878.20,139.51 L878.70,139.00 L879.20,139.51 L879.70,141.01 L880.20,143.45 L880.70,146.71 L881.20,150.68 L881.70,155.17 L882.20,160.01 L882.70,165.00 L883.20,169.92 L883.70,174.58 L884.20,178.78 L884.70,182.34 L885.20,185.12 L885.70,187.01 L886.20,187.92 L886.70,187.82 L887.20,186.71 L887.70,184.63 L888.20,181.68 L888.70,177.98 L889.20,173.68 L889.70,168.95 L890.20,164.00 L890.70,159.03 L891.20,154.24 L891.70,149.84 L892.20,146.00 L892.70,142.89 L893.20,140.63 L893.70,139.33 L894.20,139.02 L894.70,139.73 L895.20,141.43 L895.70,144.04 L896.20,147.46 L896.70,151.54 L897.20,156.12 L897.70,161.01 L898.20,165.99 L898.70,170.88 L899.20,175.46 L899.70,179.54 L900.20,182.96 L900.70,185.57 L901.20,187.27 L901.40,187.67" fill="none" stroke="#1f79d8" stroke-width="2" stroke-linejoin="round"/>
</svg>
<div class="abs t10" style="left:420px;top:272px;font-style:italic">uncertainty of average period =</div>
<div class="abs" style="left:578px;top:265px;font-weight:bold;font-style:italic;font-size:11px;letter-spacing:0.75px;-webkit-text-stroke:.3px #151515">time uncertainty</div>
<div class="abs" style="left:576.5px;top:276.5px;width:102px;height:1px;background:#444"></div>
<div class="abs" style="left:623px;top:278px;font-weight:bold;font-style:italic;font-size:11.5px;transform:scaleX(1.2);transform-origin:0 0;-webkit-text-stroke:.1px #151515">5</div>
<div class="abs t10" style="left:26px;top:311px">time uncertainty =</div>
<div class="inp" style="left:120px;top:308px;width:76px;height:17px"></div>
<div class="abs t10" style="left:26px;top:331px">uncertainty of average period =</div>
<div class="inp gr" style="left:186px;top:328px;width:76px;height:17px"></div>
<div class="abs" style="left:27px;top:363px;width:57px;height:29px;background:#237a23"></div>
<div class="abs" style="left:85px;top:363px;width:81px;height:29px;background:#237a23"></div>
<div class="abs" style="left:167px;top:363px;width:80px;height:29px;background:#237a23"></div>
<div class="abs" style="left:248px;top:363px;width:81px;height:29px;background:#237a23"></div>
<div class="abs" style="left:330px;top:363px;width:92px;height:29px;background:#237a23"></div>
<div class="abs" style="left:423px;top:363px;width:81px;height:29px;background:#237a23"></div>
<div class="abs" style="left:27px;top:393px;width:57px;height:21px;background:#31e87a"></div>
<div class="abs" style="left:85px;top:393px;width:81px;height:21px;background:#31e87a"></div>
<div class="abs" style="left:86px;top:393px;width:78px;height:18px;border:2px solid #5cd89a;border-bottom:0;background:#fff"></div>
<div class="abs" style="left:164px;top:393px;width:2px;height:21px;background:#7cf0b0"></div>
<div class="abs" style="left:167px;top:393px;width:80px;height:21px;background:#31e87a"></div>
<div class="abs" style="left:168px;top:393px;width:77px;height:18px;border:2px solid #5cd89a;border-bottom:0;background:#fff"></div>
<div class="abs" style="left:245px;top:393px;width:2px;height:21px;background:#7cf0b0"></div>
<div class="abs" style="left:248px;top:393px;width:81px;height:21px;background:#31e87a"></div>
<div class="abs" style="left:251px;top:396px;width:76px;height:15px;border:1px solid #fff;background:#d8d8d8"></div>
<div class="abs" style="left:330px;top:393px;width:92px;height:21px;background:#22f46c"></div>
<div class="abs" style="left:338px;top:396px;width:76px;height:15px;border:1px solid #fff;background:#d8d8d8"></div>
<div class="abs" style="left:423px;top:393px;width:81px;height:21px;background:#31e87a"></div>
<div class="abs" style="left:426px;top:396px;width:76px;height:15px;border:1px solid #fff;background:#d8d8d8"></div>
<div class="abs" style="left:27px;top:415px;width:57px;height:21px;background:#2cf0f6"></div>
<div class="abs" style="left:85px;top:415px;width:81px;height:21px;background:#2cf0f6"></div>
<div class="abs" style="left:86px;top:415px;width:78px;height:18px;border:2px solid #50dce0;border-bottom:0;background:#fff"></div>
<div class="abs" style="left:164px;top:415px;width:2px;height:21px;background:#7cf6fa"></div>
<div class="abs" style="left:167px;top:415px;width:80px;height:21px;background:#2cf0f6"></div>
<div class="abs" style="left:168px;top:415px;width:77px;height:18px;border:2px solid #50dce0;border-bottom:0;background:#fff"></div>
<div class="abs" style="left:245px;top:415px;width:2px;height:21px;background:#7cf6fa"></div>
<div class="abs" style="left:248px;top:415px;width:81px;height:21px;background:#2cf0f6"></div>
<div class="abs" style="left:251px;top:418px;width:76px;height:15px;border:1px solid #fff;background:#d8d8d8"></div>
<div class="abs" style="left:330px;top:415px;width:92px;height:21px;background:#20f6ff"></div>
<div class="abs" style="left:338px;top:418px;width:76px;height:15px;border:1px solid #fff;background:#d8d8d8"></div>
<div class="abs" style="left:423px;top:415px;width:81px;height:21px;background:#2cf0f6"></div>
<div class="abs" style="left:426px;top:418px;width:76px;height:15px;border:1px solid #fff;background:#d8d8d8"></div>
<div class="abs" style="left:27px;top:438px;width:57px;height:21px;background:#2ec8ee"></div>
<div class="abs" style="left:85px;top:438px;width:81px;height:21px;background:#2ec8ee"></div>
<div class="abs" style="left:86px;top:438px;width:78px;height:18px;border:2px solid #52c4dc;border-bottom:0;background:#fff"></div>
<div class="abs" style="left:164px;top:438px;width:2px;height:21px;background:#7cdcf4"></div>
<div class="abs" style="left:167px;top:438px;width:80px;height:21px;background:#2ec8ee"></div>
<div class="abs" style="left:168px;top:438px;width:77px;height:18px;border:2px solid #52c4dc;border-bottom:0;background:#fff"></div>
<div class="abs" style="left:245px;top:438px;width:2px;height:21px;background:#7cdcf4"></div>
<div class="abs" style="left:248px;top:438px;width:81px;height:21px;background:#2ec8ee"></div>
<div class="abs" style="left:251px;top:441px;width:76px;height:15px;border:1px solid #fff;background:#d8d8d8"></div>
<div class="abs" style="left:330px;top:438px;width:92px;height:21px;background:#20c6fa"></div>
<div class="abs" style="left:338px;top:441px;width:76px;height:15px;border:1px solid #fff;background:#d8d8d8"></div>
<div class="abs" style="left:423px;top:438px;width:81px;height:21px;background:#2ec8ee"></div>
<div class="abs" style="left:426px;top:441px;width:76px;height:15px;border:1px solid #fff;background:#d8d8d8"></div>
<div class="abs th" style="left:95px;top:365px;letter-spacing:0.55px">Amplitude</div>
<div class="abs th" style="left:114px;top:378px;letter-spacing:1.6px">(m)</div>
<div class="abs th" style="left:201px;top:365px;">t<span class="sb">0</span></div>
<div class="abs th" style="left:198px;top:378px;letter-spacing:1.6px">(s)</div>
<div class="abs th" style="left:280px;top:365px;">t<span class="sb">10</span></div>
<div class="abs th" style="left:279.5px;top:378px;letter-spacing:1.6px">(s)</div>
<div class="abs th" style="left:330.5px;top:365px;letter-spacing:0.6px">&Delta;t for 10 cycles</div>
<div class="abs th" style="left:367px;top:378px;letter-spacing:1.6px">(s)</div>
<div class="abs th" style="left:435px;top:365px;letter-spacing:0.6px">average T</div>
<div class="abs th" style="left:455.5px;top:378px;letter-spacing:1.6px">(s)</div>
<div class="abs rl" style="left:28px;top:398px">Graph #1</div>
<div class="abs rl" style="left:28px;top:420px">Graph #2</div>
<div class="abs rl" style="left:28px;top:443px">Graph #3</div>
<div class="abs t10" style="left:26px;top:494.4px">Presumably, the average periods that you calculated are, within uncertainties, the same. This verifies that the period is independent of the amplitude.</div>
</body></html>
